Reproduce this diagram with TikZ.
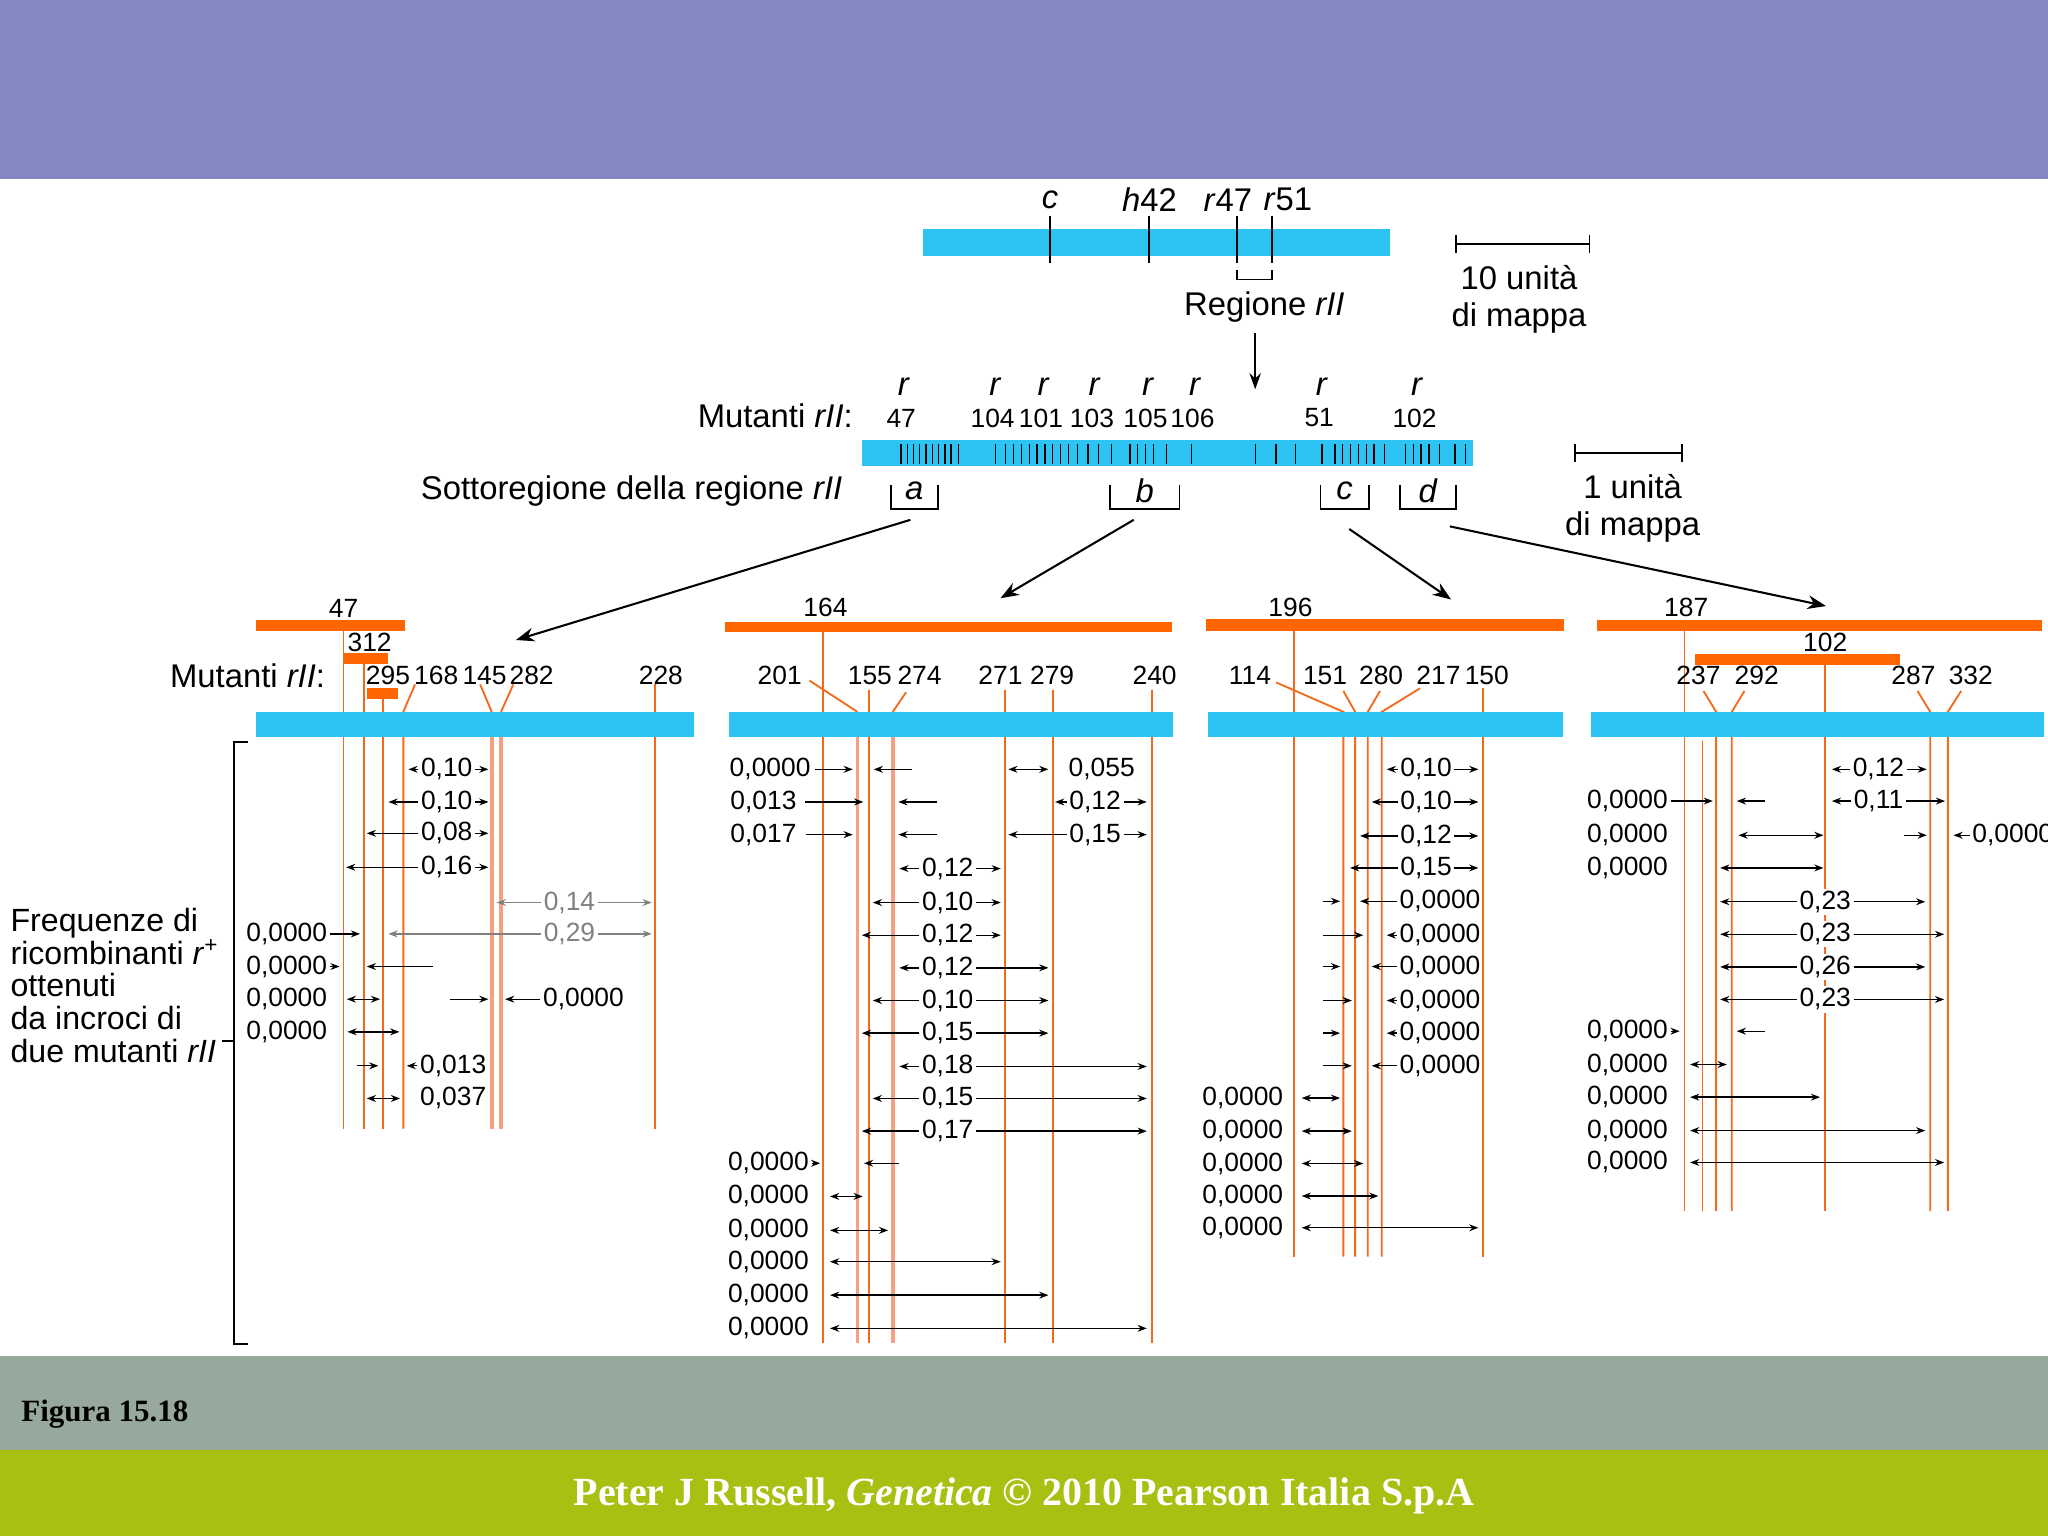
\documentclass[tikz,border=0pt]{standalone}
\usepackage{fontspec}
\setmainfont{Liberation Sans}
\newfontfamily\serifb{Liberation Serif}
\usetikzlibrary{arrows.meta}
\definecolor{cy}{HTML}{2CC3F2}
\definecolor{og}{HTML}{FF6600}
\definecolor{ol}{HTML}{F26A1B}
\definecolor{olt}{HTML}{F5A080}
\definecolor{purp}{HTML}{8489C4}
\definecolor{grn}{HTML}{A8C011}
\definecolor{gry}{HTML}{97A89D}
\tikzset{
 arr/.style={-{Stealth[length=4pt,width=3pt]},line width=0.6pt},
 darr/.style={{Stealth[length=4pt,width=3pt]}-{Stealth[length=4pt,width=3pt]},line width=0.6pt},
 fq/.style={font=\fontsize{11.5}{13}\selectfont,inner sep=1pt},
 lb/.style={font=\fontsize{11.5}{13}\selectfont,inner sep=1pt},
 big/.style={font=\fontsize{14.3}{16}\selectfont,inner sep=1pt},
 ln/.style={ol,line width=0.8pt},
 lnl/.style={olt,line width=1.6pt},
 obar/.style={fill=og,draw=none},
 cbar/.style={fill=cy,draw=none}
}
\newcommand\LR[5]{\node[fq] (n) at (#1,#2) {#3}; \draw[arr] (n.west) -- (#4,#2); \draw[arr] (n.east) -- (#5,#2);}
\newcommand\LO[4]{\node[fq] (n) at (#1,#2) {#3}; \draw[arr] (n.west) -- (#4,#2);}
\newcommand\RO[4]{\node[fq] (n) at (#1,#2) {#3}; \draw[arr] (n.east) -- (#4,#2);}
\newcommand\TX[3]{\node[fq] (n) at (#1,#2) {#3};}
\newcommand\DA[3]{\draw[darr] (#1,#3) -- (#2,#3);}
\newcommand\SA[3]{\draw[arr] (#1,#3) -- (#2,#3);}
\begin{document}
\begin{tikzpicture}[x=0.02cm,y=-0.02cm]
\useasboundingbox (0,0) rectangle (1568,1176);
\fill[white] (0,0) rectangle (1568,1176);
\fill[purp] (0,0) rectangle (1568,137);
\fill[gry] (0,1038) rectangle (1568,1110);
\fill[grn] (0,1110) rectangle (1568,1176);
\node[anchor=west,inner sep=0pt,font=\serifb\bfseries\fontsize{13.5}{15}\selectfont] (fig) at (16,1083) {Figura 15.18};
\node[text=white,font=\serifb\bfseries\fontsize{17.4}{19}\selectfont] (cred) at (784,1145) {Peter J Russell, \textit{Genetica} © 2010 Pearson Italia S.p.A};

% top chromosome
\fill[cy] (707,175) rectangle (1064,196);
\foreach \x in {804,880,947,974} \draw[line width=0.8pt] (\x,165) -- (\x,201);
\node[big] (tc) at (804,153) {\textit{c}};
\node[big] (th) at (880,153) {\textit{h}42};
\node[big] (tr47) at (940,153) {\textit{r}47};
\node[big] (tr51) at (986,153) {\textit{r}51};
\draw[line width=0.8pt] (947,207) -- (947,214) -- (974,214) -- (974,207);
\node[big] (reg) at (968,235) {Regione \textit{rII}};
\draw[-{Stealth[length=7pt,width=5pt]},line width=0.8pt] (961,255) -- (961,298);
\draw[line width=0.8pt] (1115,187) -- (1217,187) (1115,180) -- (1115,194) (1217,180) -- (1217,194);
\node[big,align=center] (s10) at (1163,229) {10 unità\\di mappa};

% second bar
\fill[cy] (660,337) rectangle (1128,357);
\foreach \x in {689.8,694.6,699.4,704.2,709,714,718.7,723.6,728,734,762,770,776,782,788,794,800,806,812,818,825,833,841,851,865,871,877,883,893,912,961,977,992,1012,1022,1028,1034,1040,1046,1052,1060,1076,1082,1088,1094,1102,1114,1122}
  \draw[line width=0.6pt] (\x,340) -- (\x,355);
\node[big,anchor=east] (mut) at (655,318) {Mutanti \textit{rII}:};
\foreach \x/\t [count=\i] in {690/47,760/104,797/101,836/103,877/105,913/106,1010/51,1083/102}{
  \node[lb] (mr\i) at (\x,320) {\t};
  \node[big] (mrr\i) at (\x+2,296) {\textit{r}};
}
\node[big,anchor=east] (sott) at (647,376) {Sottoregione della regione \textit{rII}};
\foreach \a/\b/\t [count=\i] in {682/718/a,850/903/b,1011/1048/c,1072/1115/d}{
  \draw[line width=0.8pt] (\a,371) -- (\a,390) -- (\b,390) -- (\b,371);
  \node[big] (sr\i) at ({(\a+\b)/2},376) {\textit{\t}};
}
\draw[line width=0.8pt] (1206,347) -- (1288,347) (1206,340) -- (1206,354) (1288,340) -- (1288,354);
\node[big,align=center] (s1) at (1250,389) {1 unità\\di mappa};
\draw[-{Stealth[length=8pt,width=6pt]},line width=0.9pt] (697,398) -- (395,490);
\draw[-{Stealth[length=8pt,width=6pt]},line width=0.9pt] (868,398) -- (766,458);
\draw[-{Stealth[length=8pt,width=6pt]},line width=0.9pt] (1033,405) -- (1111,459);
\draw[-{Stealth[length=8pt,width=6pt]},line width=0.9pt] (1110,403) -- (1398,464);

% left bracket and text
\draw[line width=0.8pt] (190,568) -- (179,568) -- (179,1029) -- (190,1029) (170,797) -- (179,797);
\node[big,anchor=north west,align=left,font=\fontsize{14}{14.3}\selectfont] (freq) at (6,693) {Frequenze di\\ricombinanti \textit{r}\textsuperscript{+}\\ottenuti\\da incroci di\\due mutanti \textit{rII}};
\node[big,anchor=east] (mut2) at (251,517) {Mutanti \textit{rII}:};

% ===== Panel A =====
\draw[ln] (263,483) -- (263,864); \draw[ln] (278.7,507) -- (278.7,864); \draw[ln] (293.5,535) -- (293.5,864);
\draw[ln] (317.8,524) -- (308.8,545) -- (308.8,864);
\draw[lnl] (376.5,545) -- (376.5,864); \draw[lnl] (383.6,545) -- (383.6,864);
\draw[ln] (367.6,524) -- (376.5,545); \draw[ln] (393,524) -- (383.6,545);
\draw[ln] (501.5,524) -- (501.5,864);
\fill[obar] (196,475) rectangle (310,483);
\fill[obar] (263,500) rectangle (297,508);
\fill[obar] (281,527) rectangle (304.5,535.5);
\fill[cy] (196,545) rectangle (531,564);
\node[lb] (a47) at (263,466) {47}; \node[lb] (a312) at (283,492) {312};
\node[lb] (a295) at (297,517) {295}; \node[lb] (a168) at (334,517) {168};
\node[lb] (a145) at (371,517) {145}; \node[lb] (a282) at (407,517) {282}; \node[lb] (a228) at (506,517) {228};
\LR{342}{589}{0,10}{312.7}{374}
\LR{342}{614}{0,10}{297.4}{374}
\LR{342}{638}{0,08}{280.8}{374}
\LR{342}{664}{0,16}{265}{374}
\begin{scope}[gray]
\LR{436}{691}{0,14}{380.3}{499}
\LR{436}{715}{0,29}{297.4}{499}
\end{scope}
\RO{219.5}{715}{0,0000}{275.7}
\RO{219.5}{740}{0,0000}{260}
\SA{331.8}{280.8}{740}
\TX{219.5}{765}{0,0000} \DA{265.5}{291}{765} \SA{344.6}{374}{765}
\LO{446.7}{765}{0,0000}{386.7}
\TX{219.5}{790}{0,0000} \DA{266}{305.8}{790}
\SA{273}{289.7}{816} \LO{347}{816}{0,013}{311.4}
\DA{280.8}{306.3}{841} \TX{347}{841}{0,037}

% ===== Panel B =====
\draw[ln] (630,484) -- (630,1028);
\draw[ln] (619.7,521) -- (656.4,545); \draw[lnl] (656.4,545) -- (656.4,1028);
\draw[ln] (665,528) -- (665,1028);
\draw[ln] (693.7,530) -- (683.5,545); \draw[lnl] (683.5,545) -- (683.5,1028);
\draw[ln] (769.5,528) -- (769.5,1028);
\draw[ln] (806,528) -- (806,1028);
\draw[ln] (881.8,528) -- (881.8,1028);
\fill[obar] (555,476) rectangle (897,484);
\fill[cy] (558,545) rectangle (898,564);
\node[lb] (b164) at (632,465) {164};
\node[lb] (b201) at (597,517) {201}; \node[lb] (b155) at (666,517) {155}; \node[lb] (b274) at (704,517) {274};
\node[lb] (b271) at (766,517) {271}; \node[lb] (b279) at (805.5,517) {279}; \node[lb] (b240) at (884,517) {240};
\TX{589.6}{589}{0,0000} \SA{624}{652.9}{589} \SA{698}{669}{589} \DA{772}{802.7}{589} \TX{843.5}{589}{0,055}
\TX{584.5}{614}{0,013} \SA{616.4}{661}{614} \SA{717.2}{687.8}{614} \LR{838.4}{614}{0,12}{807.8}{878}
\TX{584.5}{639}{0,017} \SA{617}{652.9}{639} \SA{717.2}{687.8}{639} \LR{838.4}{639}{0,15}{772}{878}
\LR{725.6}{665}{0,12}{688.6}{766.2}
\LR{725.6}{691}{0,10}{668.2}{766.2}
\LR{725.6}{716}{0,12}{659.8}{766.2}
\LR{725.6}{741}{0,12}{688.6}{802.7}
\LR{725.6}{766}{0,10}{668.2}{802.7}
\LR{725.6}{791}{0,15}{659.8}{802.7}
\LR{725.6}{816.5}{0,18}{688.6}{878}
\LR{725.6}{841}{0,15}{668.2}{878}
\LR{725.6}{866}{0,17}{659.8}{878}
\RO{588.3}{890.6}{0,0000}{628} \SA{688.6}{661.5}{890.6}
\TX{588.3}{916}{0,0000} \DA{635.5}{660.5}{916}
\TX{588.3}{942}{0,0000} \DA{635.5}{680}{942}
\TX{588.3}{966}{0,0000} \DA{635.5}{766.2}{966}
\TX{588.3}{991.6}{0,0000} \DA{635.5}{802.7}{991.6}
\TX{588.3}{1017}{0,0000} \DA{635.5}{878}{1017}

% ===== Panel C =====
\draw[ln] (990.8,483) -- (990.8,962);
\draw[ln] (977,522.5) -- (1028.5,545) -- (1028.5,962);
\draw[ln] (1028.5,529) -- (1037.5,545) -- (1037.5,962);
\draw[ln] (1056.6,529) -- (1047.2,545) -- (1047.2,962);
\draw[ln] (1087.2,527) -- (1057.9,545) -- (1057.9,962);
\draw[ln] (1135.2,527) -- (1135.2,962);
\fill[obar] (923.4,474) rectangle (1197.5,483);
\fill[cy] (925,545) rectangle (1197,564);
\node[lb] (c196) at (988,465) {196};
\node[lb] (c114) at (957,517) {114}; \node[lb] (c151) at (1014.5,517) {151}; \node[lb] (c280) at (1057.4,517) {280};
\node[lb] (c217) at (1101.3,517) {217}; \node[lb] (c150) at (1138.3,517) {150};
\LR{1091.8}{589}{0,10}{1061.7}{1131.9}
\LR{1091.8}{614}{0,10}{1050.2}{1131.9}
\LR{1091.8}{640}{0,12}{1041.3}{1131.9}
\LR{1091.8}{664.5}{0,15}{1033.6}{1131.9}
\SA{1013.2}{1026}{690} \LO{1102.5}{690}{0,0000}{1041.3}
\SA{1013.2}{1043.8}{716} \LO{1102.5}{716}{0,0000}{1061.7}
\SA{1013.2}{1026}{740} \LO{1102.5}{740}{0,0000}{1050.2}
\SA{1013.2}{1035}{766} \LO{1102.5}{766}{0,0000}{1061.7}
\SA{1013.2}{1026}{791} \LO{1102.5}{791}{0,0000}{1061.7}
\SA{1013.2}{1035}{816} \LO{1102.5}{816}{0,0000}{1050.2}
\TX{951.5}{840.7}{0,0000} \DA{996.6}{1026}{840.7}
\TX{951.5}{866}{0,0000} \DA{996.6}{1035}{866}
\TX{951.5}{890.8}{0,0000} \DA{996.6}{1043.8}{890.8}
\TX{951.5}{915.7}{0,0000} \DA{996.6}{1055.3}{915.7}
\TX{951.5}{940}{0,0000} \DA{996.6}{1131.9}{940}

% ===== Panel D =====
\draw[ln] (1289.7,483) -- (1289.7,927);
\draw[ln] (1303.5,567) -- (1303.5,927);
\draw[ln] (1304.2,529) -- (1313.9,545) -- (1313.9,927);
\draw[ln] (1335.6,529) -- (1325.9,545) -- (1325.9,927);
\draw[ln] (1397.4,509) -- (1397.4,927);
\draw[ln] (1468.1,529) -- (1477.8,545) -- (1477.8,927);
\draw[ln] (1501.5,529) -- (1491.3,545) -- (1491.3,927);
\fill[obar] (1222.6,475) rectangle (1563.3,483);
\fill[obar] (1297.8,500.7) rectangle (1454.3,508.8);
\fill[cy] (1218,545) rectangle (1565,564);
\node[lb,fill=white] (d187) at (1291,465) {187}; \node[lb] (d102) at (1397.4,492) {102};
\node[lb] (d237) at (1300.4,517) {237}; \node[lb] (d292) at (1345,517) {292};
\node[lb] (d287) at (1465,517) {287}; \node[lb] (d332) at (1508.9,517) {332};
\tikzset{fq/.append style={fill=white}}
\LR{1438.2}{589}{0,12}{1402.5}{1475.2}
\RO{1246}{613.3}{0,0000}{1311.4} \SA{1351.4}{1329.7}{613.3} \LR{1438.2}{613.3}{0,11}{1402.5}{1489.2}
\TX{1246}{639.5}{0,0000} \DA{1331}{1396.1}{639.5} \SA{1457.9}{1475.2}{639.5}
\node[fq,anchor=west] (dx) at (1508,639.5) {0,0000}; \draw[arr] (dx.west) -- (1495.6,639.5);
\TX{1246}{664.5}{0,0000} \DA{1317}{1396.1}{664.5}
\LR{1397.4}{690.4}{0,23}{1317}{1474}
\LR{1397.4}{715.3}{0,23}{1317}{1488.5}
\LR{1397.4}{740.3}{0,26}{1317}{1474}
\LR{1397.4}{765.2}{0,23}{1317}{1488.5}
\RO{1246}{789.5}{0,0000}{1286} \SA{1351.4}{1329.7}{789.5}
\TX{1246}{815}{0,0000} \DA{1294}{1322.1}{815}
\TX{1246}{840}{0,0000} \DA{1294}{1393.5}{840}
\TX{1246}{865.6}{0,0000} \DA{1294}{1474}{865.6}
\TX{1246}{890}{0,0000} \DA{1294}{1488.5}{890}
\end{tikzpicture}
\end{document}
